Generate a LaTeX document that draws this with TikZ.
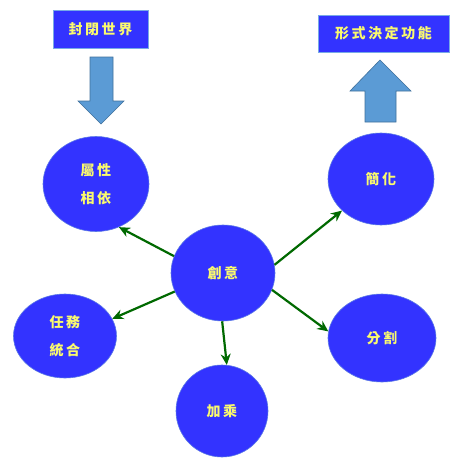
\documentclass[tikz,border=0pt]{standalone}
\usepackage{fontspec}
\newfontfamily\cjk[LetterSpace=18]{Noto Sans CJK TC}
\usetikzlibrary{shapes.geometric,arrows.meta}
\definecolor{nodeblue}{RGB}{51,51,255}
\definecolor{edgeblue}{RGB}{90,120,230}
\definecolor{boxedge}{RGB}{120,170,230}
\definecolor{txtyellow}{RGB}{250,250,110}
\definecolor{arrowfill}{RGB}{91,155,213}
\definecolor{arrowedge}{RGB}{65,113,156}
\definecolor{linkgreen}{RGB}{0,105,0}
\tikzset{
  bubble/.style={ellipse, fill=nodeblue, draw=edgeblue, line width=0.6pt, inner sep=0pt,
    text=txtyellow, font=\cjk\bfseries\fontsize{14pt}{28pt}\selectfont, align=center},
  titlebox/.style={rectangle, fill=nodeblue, draw=boxedge, line width=0.8pt, inner sep=0pt,
    text=txtyellow, font=\cjk\bfseries\fontsize{14pt}{17pt}\selectfont},
  blockarrow/.style={fill=arrowfill, draw=arrowedge, line width=0.6pt},
  link/.style={draw=linkgreen, line width=2.2pt, -{Stealth[length=11pt,width=10pt]}}
}
\begin{document}
\begin{tikzpicture}[x=1pt,y=-1pt]
\useasboundingbox (0,0) rectangle (474,463);
\fill[white] (0,0) rectangle (474,463);
% title boxes
\node[titlebox, minimum width=95pt, minimum height=38pt] (closed) at (100.5,29) {封閉世界};
\node[titlebox, minimum width=131pt, minimum height=37pt] (form) at (383.5,33.5) {形式決定功能};
% block arrows
\draw[blockarrow] (90,57) -- (113,57) -- (113,101) -- (124,101) -- (101,124) -- (78,101) -- (90,101) -- cycle;
\draw[blockarrow] (365,122) -- (396,122) -- (396,91) -- (411,91) -- (380,60) -- (350,91) -- (365,91) -- cycle;
% bubbles
\node[bubble, minimum width=106pt, minimum height=95pt] (attr) at (96,184) {屬性\\相依};
\node[bubble, minimum width=106pt, minimum height=92pt] (simp) at (381,179) {簡化};
\node[bubble, minimum width=104pt, minimum height=96pt] (idea) at (223,273) {創意};
\node[bubble, minimum width=103pt, minimum height=84pt] (task) at (65,336) {任務\\統合};
\node[bubble, minimum width=92pt, minimum height=92pt] (mult) at (222,411) {加乘};
\node[bubble, minimum width=108pt, minimum height=88pt] (split) at (382,338) {分割};
% links
\draw[link] (idea.161) -- (attr.298);
\draw[link] (idea.201) -- (task.20);
\draw[link] (idea.269) -- (mult.84);
\draw[link] (idea.9) -- (simp.219);
\draw[link] (idea.341) -- (split.173);
\end{tikzpicture}
\end{document}
